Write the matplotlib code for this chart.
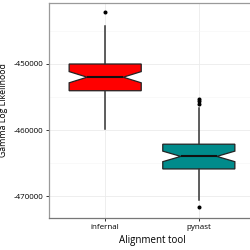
import numpy as np
import matplotlib
matplotlib.use("Agg")
import matplotlib.pyplot as plt

# Valores (log-verosimilitud gamma)
tools = ["infernal", "pynast"]
q1 = [-454050, -465900]
med = [-452000, -464000]
q3 = [-450000, -462150]
whislo = [-459900, -470550]
whishi = [-444200, -456700]
ci_lo = [-452850, -464800]
ci_hi = [-451150, -463200]
outliers = [[-442100], [-455250, -455650, -456000, -471700]]
colors = ["#ff0000", "#008b8b"]

plt.rcParams['font.family'] = ['Open Sans', 'DejaVu Sans']

fig = plt.figure(figsize=(2.5, 2.5), dpi=100)
ax = fig.add_axes([0.196, 0.128, 0.824, 0.86])

stats = []
for i in range(len(tools)):
    stats.append(dict(med=med[i], q1=q1[i], q3=q3[i],
                      whislo=whislo[i], whishi=whishi[i],
                      cilo=ci_lo[i], cihi=ci_hi[i],
                      fliers=outliers[i], label=tools[i]))

bp = ax.bxp(stats, positions=[1, 2], widths=0.77, shownotches=True,
            patch_artist=True, showcaps=False,
            boxprops=dict(edgecolor="#222222", linewidth=0.9),
            medianprops=dict(color="#111111", linewidth=1.5),
            whiskerprops=dict(color="#333333", linewidth=1.1),
            flierprops=dict(marker="o", markersize=1.9,
                            markerfacecolor="black", markeredgecolor="black"))
for patch, c in zip(bp["boxes"], colors):
    patch.set_facecolor(c)
for line in bp["medians"]:
    line.set_zorder(3)

ax.set_xlim(0.4, 2.6)
ax.set_ylim(-473333, -440758)
ax.set_yticks([-470000, -460000, -450000])
ax.set_yticks([-465000, -455000, -445000], minor=True)
ax.set_yticklabels(["-470000", "-460000", "-450000"])
ax.set_xticks([1, 2])
ax.set_xticklabels(tools)

ax.grid(True, which="major", color="#ebebeb", linewidth=0.6)
ax.grid(True, which="minor", axis="y", color="#f5f5f5", linewidth=0.4)
ax.set_axisbelow(True)

for s in ["left", "bottom", "top"]:
    ax.spines[s].set_color("#9a9a9a")
    ax.spines[s].set_linewidth(0.9)
ax.spines["right"].set_visible(False)
ax.spines["bottom"].set_color("#777777")

ax.tick_params(axis="both", which="major", labelsize=5.8, length=2.5,
               width=0.7, color="#333333", labelcolor="black", pad=1.5)
ax.tick_params(axis="y", which="minor", length=0)

ax.set_xlabel("Alignment tool", fontsize=7, labelpad=3, color="black")
ax.set_ylabel("Gamma Log Likelihood", fontsize=6.3, labelpad=4, color="black")

fig.savefig("out.png", dpi=100)
